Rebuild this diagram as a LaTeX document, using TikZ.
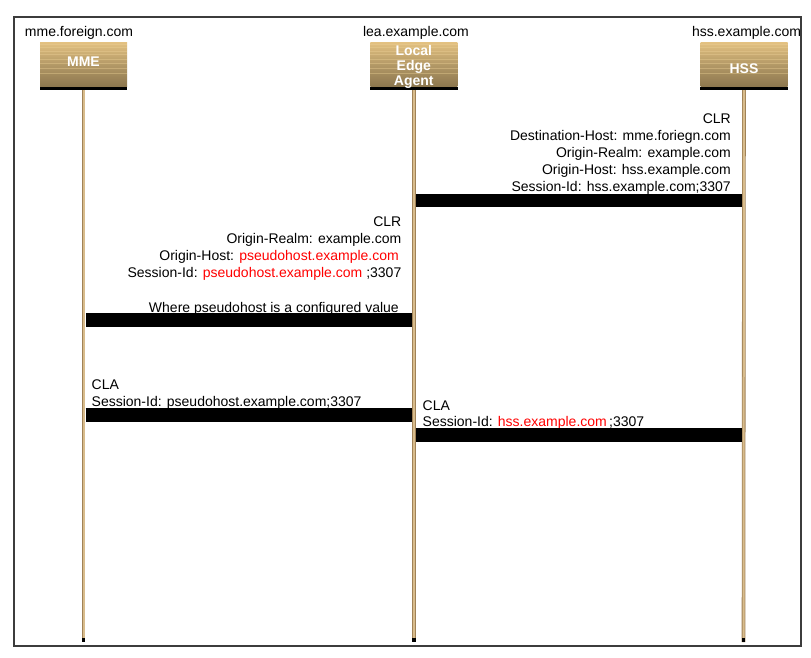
\documentclass[tikz,border=0pt]{standalone}
\usepackage{fontspec}
\setmainfont{Liberation Sans}
\definecolor{tanlight}{RGB}{216,188,140}
\definecolor{tandark}{RGB}{160,130,88}
\definecolor{boxtop}{RGB}{226,192,128}
\definecolor{boxmid}{RGB}{178,152,102}
\definecolor{boxbot}{RGB}{140,118,78}
\definecolor{stripe}{RGB}{236,208,150}
\definecolor{framegray}{RGB}{60,60,60}
\tikzset{
  txt/.style={font=\fontsize{14}{17}\selectfont, inner sep=0pt, text=black},
  actor/.style={minimum width=87pt, minimum height=44pt, inner sep=0pt,
    top color=boxtop, bottom color=boxbot, middle color=boxmid},
  boxtxt/.style={font=\fontsize{14}{15}\selectfont\bfseries, text=white, align=center, inner sep=0pt},
  lifeedge/.style={draw=tandark, line width=3.6pt},
  lifecore/.style={draw=tanlight, line width=2pt},
  msgbar/.style={draw=black, line width=13.5pt, shorten >=2pt, shorten <=2pt}
}
\begin{document}
\begin{tikzpicture}[x=1pt, y=-1pt]
\useasboundingbox (0,0) rectangle (811,658);
\fill[white] (0,0) rectangle (811,658);
\draw[line width=1.5pt, framegray] (14,17) rectangle (801,646);

% actor boxes
\node[actor] (mme) at (83.5,65) {};
\node[actor] (lea) at (413.8,65) {};
\node[actor] (hss) at (744,65) {};
\foreach \b in {mme,lea,hss}{
  \foreach \s in {2,5,9,12,17,21,26,31}{
    \draw[stripe, opacity=0.4, line width=0.9pt] ([yshift=-\s pt]\b.north west) -- ([yshift=-\s pt]\b.north east);
  }
  \fill[black] (\b.south west) rectangle ([yshift=-3pt]\b.south east);
}
\node[boxtxt] (mmet) at (83.5,62) {MME};
\node[boxtxt] (leat) at (413.8,66.5) {Local\\Edge\\Agent};
\node[boxtxt] (hsst) at (744,68.5) {HSS};

% host labels
\node[txt, anchor=base] (mmeh) at (79,36.5) {mme.foreign.com};
\node[txt, anchor=base] (leah) at (416,36.5) {lea.example.com};
\node[txt, anchor=base] (hssh) at (746.5,36.5) {hss.example.com};

% lifelines
\coordinate (mmeEnd) at (83.5,642);
\coordinate (leaEnd) at (413.8,642);
\coordinate (hssEnd) at (743.5,642);
\foreach \b/\e in {mme/mmeEnd,lea/leaEnd,hss/hssEnd}{
  \draw[lifeedge] ([yshift=-3pt]\b.south) -- (\e);
  \draw[lifecore] ([yshift=-3pt]\b.south) -- (\e);
  \fill[black] ([xshift=-1.8pt]\e) rectangle ([xshift=1.8pt, yshift=4pt]\e);
}

% message 1 text
\node[txt, anchor=base east] (m1a) at (731,123.5) {CLR};
\node[txt, anchor=base east] (m1b) at (731,140.5) {Destination-Host: mme.foriegn.com};
\node[txt, anchor=base east] (m1c) at (731,157.5) {Origin-Realm: example.com};
\node[txt, anchor=base east] (m1d) at (731,174.5) {Origin-Host: hss.example.com};
\node[txt, anchor=base east] (m1e) at (731,191.5) {Session-Id: hss.example.com;3307};

% message 2 text
\node[txt, anchor=base east] (m2a) at (401.5,226) {CLR};
\node[txt, anchor=base east] (m2b) at (401.5,243) {Origin-Realm: example.com};
\node[txt, anchor=base east] (m2c) at (399,260) {Origin-Host: \textcolor{red}{pseudohost.example.com}\ };
\node[txt, anchor=base east] (m2d) at (401.5,277) {Session-Id: \textcolor{red}{pseudohost.example.com} ;3307};
\node[txt, anchor=base east] (m2e) at (399,312.5) {Where pseudohost is a configured value};

% message 3 text
\node[txt, anchor=base west] (m3a) at (91.5,389.5) {CLA};
\node[txt, anchor=base west] (m3b) at (91.5,406.5) {Session-Id: pseudohost.example.com;3307};

% message 4 text
\node[txt, anchor=base west] (m4a) at (422.5,410) {CLA};
\node[txt, anchor=base west] (m4b) at (422.5,426.5) {Session-Id: \textcolor{red}{hss.example.com}\,;3307};

% message bars
\coordinate (h1) at (743.5,200.5); \coordinate (l1) at (413.8,200.5);
\coordinate (l2) at (413.8,320);   \coordinate (m2) at (83.5,320);
\coordinate (m3) at (83.5,415);    \coordinate (l3) at (413.8,415);
\coordinate (l4) at (413.8,435);   \coordinate (h4) at (743.5,435);
\draw[msgbar] (h1) -- (l1);
\draw[msgbar] (l2) -- (m2);
\draw[msgbar] (m3) -- (l3);
\draw[msgbar] (l4) -- (h4);
\end{tikzpicture}
\end{document}
